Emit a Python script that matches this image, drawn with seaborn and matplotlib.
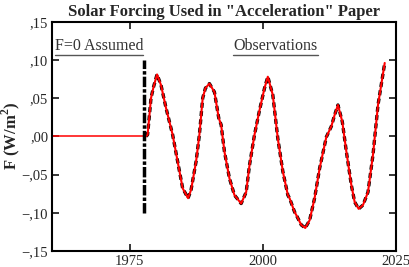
import numpy as np
import pandas as pd
import seaborn as sns
import matplotlib.pyplot as plt
from matplotlib.lines import Line2D

# solar forcing (W/m2)
years = [1978.08, 1978.38, 1979.02, 1979.51, 1980.15, 1980.90, 1981.84, 1983.08,
         1984.02, 1984.96, 1985.98, 1986.54, 1987.48, 1988.10, 1988.72, 1989.23,
         1989.98, 1990.92, 1991.73, 1992.18, 1992.80, 1993.74, 1994.68, 1995.94,
         1996.88, 1997.50, 1998.44, 1999.38, 2000.32, 2000.94, 2001.88, 2002.82,
         2003.76, 2004.70, 2005.02, 2005.96, 2006.28, 2007.22, 2007.97, 2008.78,
         2009.72, 2010.66, 2011.92, 2012.86, 2013.48, 2014.10, 2014.92, 2015.68,
         2016.62, 2017.24, 2017.99, 2018.80, 2019.74, 2020.68, 2021.62, 2022.88]
forcing = [0.000, 0.002, 0.050, 0.065, 0.081, 0.067, 0.037, 0.002,
           -0.033, -0.068, -0.081, -0.070, -0.033, 0.002, 0.050, 0.063,
           0.069, 0.058, 0.024, 0.015, -0.020, -0.055, -0.077, -0.088,
           -0.073, -0.038, 0.002, 0.034, 0.063, 0.078, 0.054, -0.003,
           -0.046, -0.077, -0.081, -0.099, -0.103, -0.116, -0.120, -0.110,
           -0.081, -0.042, -0.001, 0.013, 0.028, 0.041, 0.019, -0.020,
           -0.064, -0.086, -0.095, -0.090, -0.073, -0.024, 0.041, 0.096]

# assumed zero period before observations
assumed_years = [1960.5, 1978.08]
assumed_forcing = [0.0, 0.0]

obs_start = 1977.67
marker_range = [-0.10, 0.10]

yticks = [-0.15, -0.10, -0.05, 0.0, 0.05, 0.10, 0.15]
ytick_labels = ["\u2212,15", "\u2212,10", "\u2212,05", ",00", ",05", ",10", ",15"]
xticks = [1975, 2000, 2025]

sns.set_style("ticks")
plt.rcParams['font.family'] = ['Liberation Serif', 'DejaVu Serif']
plt.rcParams['mathtext.fontset'] = 'custom'
plt.rcParams['mathtext.rm'] = 'Liberation Serif'
plt.rcParams['mathtext.bf'] = 'Liberation Serif:bold'

obs = pd.DataFrame({"year": years, "F": forcing})
pre = pd.DataFrame({"year": assumed_years, "F": assumed_forcing})

fig = plt.figure(figsize=(4.1, 2.67), dpi=100)
ax = fig.add_axes([0.1276, 0.0603, 0.8383, 0.8584])

# black dashed curve underneath, red on top
sns.lineplot(data=obs, x="year", y="F", ax=ax, color="black", lw=2.4,
             linestyle=(0, (1.5, 1)), legend=False)
sns.lineplot(data=obs, x="year", y="F", ax=ax, color="red", lw=1.5, legend=False)
sns.lineplot(data=pre, x="year", y="F", ax=ax, color="red", lw=1.1, legend=False)
ax.plot([obs_start, obs_start], marker_range, color="black", lw=2.5,
        linestyle=(0, (3, 0.6, 1, 0.6)))

ax.set_xlim(1960.5, 2025)
ax.set_ylim(-0.15, 0.15)
ax.set_xticks(xticks)
ax.set_yticks(yticks)
ax.set_yticklabels(ytick_labels)
ax.tick_params(direction="in", length=5, width=1.3, labelsize=10.5,
               top=True, right=True, pad=3)
for s in ax.spines.values():
    s.set_linewidth(1.5)
    s.set_color("black")

ax.set_xlabel("")
ax.set_ylabel("F (W/m$^\\mathbf{2}$)", fontsize=12, fontweight="bold")
ax.yaxis.set_label_coords(-0.088, 0.5)
ax.set_title('Solar Forcing Used in "Acceleration" Paper', fontsize=12,
             fontweight="bold", pad=4)

t1 = ax.text(1961.0, 0.118, "F=0 Assumed", fontsize=11.5, color="#333333",
             ha="left", va="center")
t2 = ax.text(1994.5, 0.118, "Observations", fontsize=11.5, color="#333333",
             ha="left", va="center")

# underline each label from its own extent
fig.canvas.draw()
inv = fig.transFigure.inverted()
for t in (t1, t2):
    bb = t.get_window_extent()
    (x0, y0), (x1, _) = inv.transform([[bb.x0, bb.y0], [bb.x1, bb.y1]])
    fig.add_artist(Line2D([x0, x1], [y0 - 0.002, y0 - 0.002],
                          transform=fig.transFigure, color="#555555", lw=1.0))

fig.savefig("out.png", dpi=100)
